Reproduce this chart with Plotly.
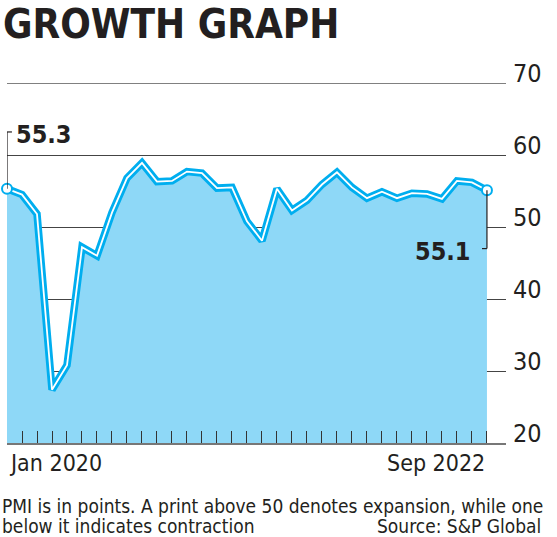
import plotly.graph_objects as go

# India manufacturing PMI, Jan 2020 - Sep 2022 (monthly)
pmi = [55.3, 54.5, 51.8, 27.4, 30.8, 47.2, 46.0, 52.0, 56.8, 58.9, 56.3, 56.4,
       57.7, 57.5, 55.4, 55.5, 50.8, 48.1, 55.3, 52.3, 53.7, 55.9, 57.6, 55.5,
       54.0, 54.9, 54.0, 54.7, 54.6, 53.9, 56.4, 56.2, 55.1]
x = list(range(len(pmi)))
first_label = "Jan 2020"
last_label = "Sep 2022"
y_ticks = [20, 30, 40, 50, 60, 70]

FONT = "DejaVu Sans Condensed, Liberation Sans Narrow, sans-serif"
INK = "#231f20"
BLUE = "#00aeef"
FILL = "#8ed8f7"

# plot area in pixels: left 7, right 506, top 83, bottom 443
def px_x(p):
    return (p - 7) / 499

def px_y(p):
    return (443 - p) / 360

fig = go.Figure()
fig.add_trace(go.Scatter(x=x, y=pmi, mode="lines", fill="tozeroy",
                         fillcolor=FILL, line=dict(color=BLUE, width=7.5),
                         hoverinfo="skip"))
fig.add_trace(go.Scatter(x=x, y=pmi, mode="lines",
                         line=dict(color="white", width=1.8), hoverinfo="skip"))
fig.add_trace(go.Scatter(x=[x[0], x[-1]], y=[pmi[0], pmi[-1]], mode="markers",
                         marker=dict(size=10, color="white",
                                     line=dict(color=BLUE, width=2)),
                         hoverinfo="skip", cliponaxis=False))

# top rule at the highest tick (plotly skips the gridline on the edge)
fig.add_shape(type="line", xref="paper", x0=0, x1=1, y0=y_ticks[-1],
              y1=y_ticks[-1], line=dict(color="#808080", width=2), layer="below")

# callout lines to the first and last value
fig.add_shape(type="line", x0=x[0], x1=x[0], y0=pmi[0], y1=63.2,
              line=dict(color=INK, width=1.2))
fig.add_shape(type="line", x0=x[0], x1=x[0] + 0.33, y0=63.2, y1=63.2,
              line=dict(color=INK, width=1.2))
fig.add_shape(type="line", x0=x[-1], x1=x[-1], y0=pmi[-1], y1=47.0,
              line=dict(color=INK, width=1.2))
fig.add_shape(type="line", x0=x[-1], x1=x[-1] - 0.33, y0=47.0, y1=47.0,
              line=dict(color=INK, width=1.2))

fig.add_annotation(x=0.47, y=62.8, text=f"<b>{pmi[0]}</b>", showarrow=False,
                   xanchor="left", yanchor="middle",
                   font=dict(family=FONT, size=25, color=INK))
fig.add_annotation(x=31.07, y=46.6, text=f"<b>{pmi[-1]}</b>", showarrow=False,
                   xanchor="right", yanchor="middle",
                   font=dict(family=FONT, size=25, color=INK))

fig.add_annotation(x=x[0], y=px_y(463), yref="paper", text=first_label,
                   showarrow=False, xanchor="left", yanchor="middle",
                   font=dict(family=FONT, size=23, color=INK))
fig.add_annotation(x=x[-1], y=px_y(463), yref="paper", text=last_label,
                   showarrow=False, xanchor="right", yanchor="middle",
                   font=dict(family=FONT, size=23, color=INK))

fig.add_annotation(xref="paper", yref="paper", x=px_x(0), y=px_y(506),
                   text="PMI is in points. A print above 50 denotes expansion, while one",
                   showarrow=False, xanchor="left", yanchor="middle",
                   font=dict(family=FONT, size=19, color=INK))
fig.add_annotation(xref="paper", yref="paper", x=px_x(0), y=px_y(526),
                   text="below it indicates contraction",
                   showarrow=False, xanchor="left", yanchor="middle",
                   font=dict(family=FONT, size=19, color=INK))
fig.add_annotation(xref="paper", yref="paper", x=px_x(543), y=px_y(526),
                   text="Source: S&P Global",
                   showarrow=False, xanchor="right", yanchor="middle",
                   font=dict(family=FONT, size=19, color=INK))

fig.add_annotation(xref="paper", yref="paper", x=px_x(1), y=px_y(24),
                   text="<b>GROWTH GRAPH</b>", showarrow=False,
                   xanchor="left", yanchor="middle",
                   font=dict(family=FONT, size=40, color=INK))

fig.update_layout(
    width=557, height=537,
    margin=dict(l=7, r=51, t=83, b=94, autoexpand=False),
    paper_bgcolor="white", plot_bgcolor="white",
    showlegend=False,
    xaxis=dict(range=[0, 33.27], showgrid=False, zeroline=False,
               showline=True, linecolor="#777777", linewidth=1.5,
               ticks="inside", tickvals=x, ticklen=12, tickwidth=1,
               tickcolor="#333333", showticklabels=False, automargin=False),
    yaxis=dict(range=[20, 70], side="right", tickvals=y_ticks,
               showgrid=True, gridcolor="#444444", gridwidth=1,
               zeroline=False, showline=False, ticks="",
               ticklabelshift=-10, ticklabelstandoff=6, automargin=False,
               tickfont=dict(family=FONT, size=25, color=INK)),
)

fig.write_html("out.html", config={"displayModeBar": False},
               post_script="document.body.style.margin='0';")
